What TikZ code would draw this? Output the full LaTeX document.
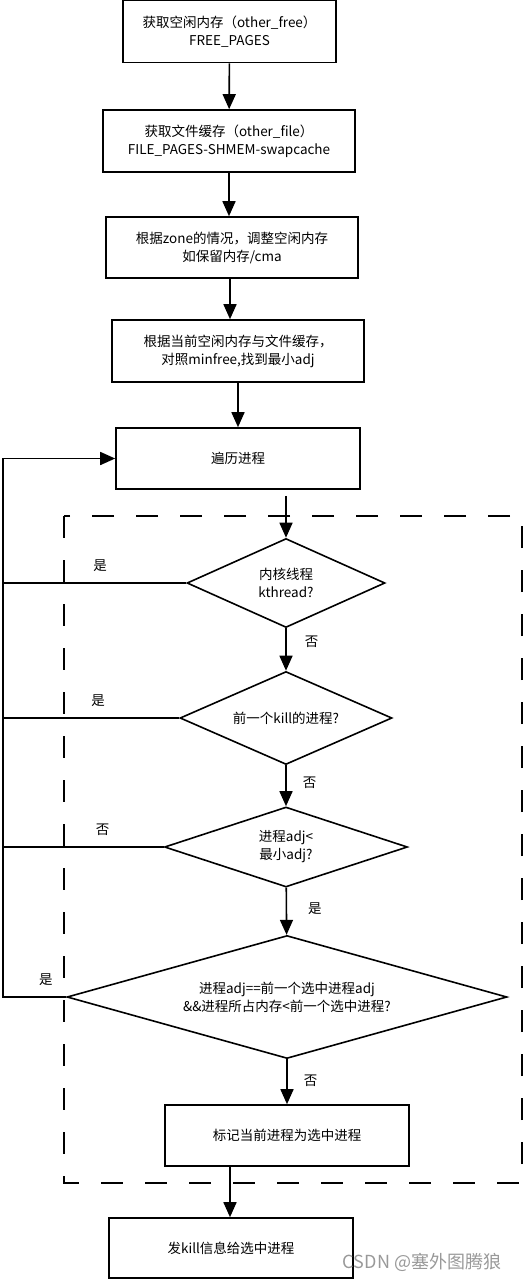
\documentclass[tikz,border=0pt]{standalone}
\usepackage{fontspec}
\setmainfont{Noto Sans CJK SC}
\usepackage{xcolor}
\usepackage{tikz}
\usetikzlibrary{arrows.meta}
\usetikzlibrary{shapes.geometric}

\begin{document}
\begin{tikzpicture}[x=1pt,y=1pt,line width=1.6pt,font=\fontsize{13.5}{18}\selectfont,
        box/.style={draw,rectangle,align=center,inner sep=0pt},
        test/.style={draw,diamond,align=center,inner sep=0pt},
        flow/.style={-{Triangle[length=15pt,width=13pt]}},
        lbl/.style={inner sep=1pt}]
        \useasboundingbox (0,0) rectangle (524,-1280);

        \node[box,minimum width=213pt,minimum height=62pt] (free) at (229.5,-31.5) {获取空闲内存（other\_free）\\FREE\_PAGES};
        \node[box,minimum width=252pt,minimum height=62pt] (file) at (229,-141) {获取文件缓存（other\_file）\\FILE\_PAGES-SHMEM-swapcache};
        \node[box,minimum width=252pt,minimum height=61pt] (zone) at (232,-247.5) {根据zone的情况，调整空闲内存\\如保留内存/cma};
        \node[box,minimum width=252pt,minimum height=62pt] (minadj) at (238,-351) {根据当前空闲内存与文件缓存，\\对照minfree,找到最小adj};
        \node[box,minimum width=244pt,minimum height=61pt] (scan) at (238,-458.5) {遍历进程};

        \draw[dash pattern=on 22pt off 22pt] (64,-516) rectangle (522,-1183);

        \node[test,minimum width=198pt,minimum height=89pt,aspect=2.2] (kthr) at (286,-583) {内核线程\\kthread?};
        \node[test,minimum width=212pt,minimum height=93pt,aspect=2.3] (prev) at (286,-718) {前一个kill的进程?};
        \node[test,minimum width=243pt,minimum height=80pt,aspect=3] (less) at (286,-847) {进程adj<\\最小adj?};
        \node[test,minimum width=440pt,minimum height=123pt,aspect=3.6] (same) at (287,-997) {进程adj==前一个选中进程adj\\\&\&进程所占内存<前一个选中进程?};

        \node[box,minimum width=244pt,minimum height=61pt] (mark) at (287,-1135.5) {标记当前进程为选中进程};
        \node[box,minimum width=244pt,minimum height=60pt] (kill) at (231,-1248) {发kill信息给选中进程};
        \node[text=black!40,font=\fontsize{18}{20}\selectfont] (csdn) at (422,-1262) {CSDN @塞外图腾狼};

        \coordinate (rail) at (3,0);

        \draw[flow] (free) -- (file);
        \draw[flow] (file.south) -- (file.south |- zone.north);
        \draw[flow] ([xshift=-2pt]zone.south) -- ([xshift=-8pt]minadj.north);
        \draw[flow] (minadj) -- (scan);
        \draw[flow] ([xshift=48pt,yshift=-6pt]scan.south) -- (kthr.north);

        \draw[flow] (kthr) -- node[lbl,right=17pt,pos=0.32]{否} (prev);
        \draw[flow] (prev) -- node[lbl,right=15pt,pos=0.43]{否} (less);
        \draw[flow] (less) -- node[lbl,right=20pt,pos=0.44]{是} (same);
        \draw[flow] (same) -- node[lbl,right=15pt,pos=0.47]{否} (mark);
        \draw[flow] ([xshift=-57pt]mark.south) -- ([xshift=-1pt]kill.north);

        \draw (kthr.west) -- node[lbl,above=10pt,pos=0.47]{是} (kthr.west -| rail);
        \draw (prev.west) -- node[lbl,above=10pt,pos=0.46]{是} (prev.west -| rail);
        \draw (less.west) -- node[lbl,above=10pt,pos=0.38]{否} (less.west -| rail);
        \draw[flow] (same.west) -- node[lbl,above=10pt,pos=0.32]{是} (same.west -| rail) |- (scan.west);
    \end{tikzpicture}
\end{document}
